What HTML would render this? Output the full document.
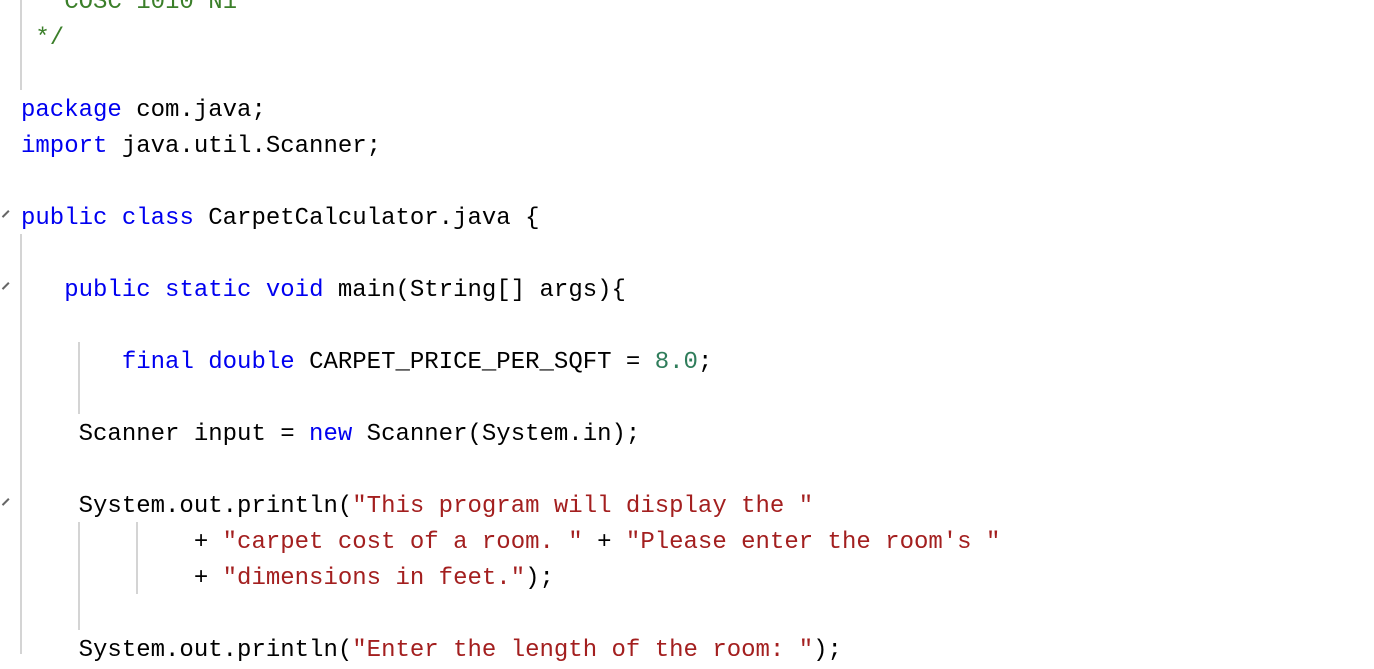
<!DOCTYPE html>
<html><head><style>
body{margin:0;width:1374px;height:654px;overflow:hidden;background:#fff;position:relative}
.l{position:absolute;left:21px;height:36px;line-height:36px;font-family:"Liberation Mono",monospace;font-size:24px;white-space:pre;color:#000}
.k{color:#0000f0}.s{color:#a31f1f}.c{color:#3b7f2a}.n{color:#2f7d5b}
.g{position:absolute;width:2px;background:#d4d4d4}
.m{position:absolute;left:1px;width:9px;height:1.5px;background:#666;transform:rotate(-45deg)}
</style></head><body>
<div class="g" style="left:20px;top:0;height:90px"></div>
<div class="g" style="left:20px;top:234px;height:420px"></div>
<div class="g" style="left:78px;top:342px;height:72px"></div>
<div class="g" style="left:78px;top:522px;height:108px"></div>
<div class="g" style="left:136px;top:522px;height:72px"></div>
<div class="m" style="top:213px"></div>
<div class="m" style="top:285px"></div>
<div class="m" style="top:501px"></div>
<div class="l c" style="top:-15px"> * COSC 1010 N1</div>
<div class="l c" style="top:21px"> */</div>
<div class="l" style="top:93px"><span class="k">package</span> com.java;</div>
<div class="l" style="top:129px"><span class="k">import</span> java.util.Scanner;</div>
<div class="l" style="top:201px"><span class="k">public</span> <span class="k">class</span> CarpetCalculator.java {</div>
<div class="l" style="top:273px">   <span class="k">public</span> <span class="k">static</span> <span class="k">void</span> main(String[] args){</div>
<div class="l" style="top:345px">       <span class="k">final</span> <span class="k">double</span> CARPET_PRICE_PER_SQFT = <span class="n">8.0</span>;</div>
<div class="l" style="top:417px">    Scanner input = <span class="k">new</span> Scanner(System.in);</div>
<div class="l" style="top:489px">    System.out.println(<span class="s">"This program will display the "</span></div>
<div class="l" style="top:525px">            + <span class="s">"carpet cost of a room. "</span> + <span class="s">"Please enter the room's "</span></div>
<div class="l" style="top:561px">            + <span class="s">"dimensions in feet."</span>);</div>
<div class="l" style="top:633px">    System.out.println(<span class="s">"Enter the length of the room: "</span>);</div>
</body></html>
